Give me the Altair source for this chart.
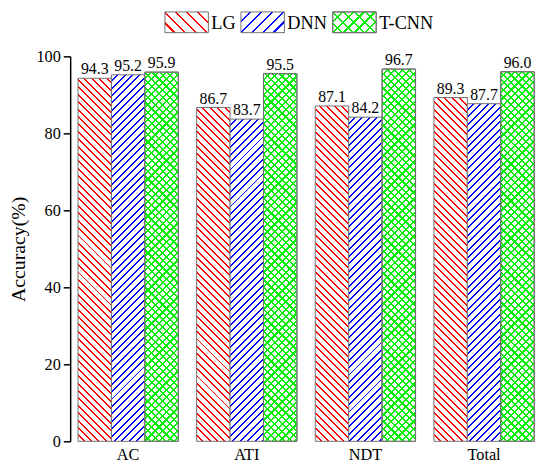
import math
import altair as alt
import pandas as pd

# ---------------- data ----------------
categories = ["AC", "ATI", "NDT", "Total"]
models = ["LG", "DNN", "T-CNN"]
lg_acc = [94.3, 86.7, 87.1, 89.3]
dnn_acc = [95.2, 83.7, 84.2, 87.7]
tcnn_acc = [95.9, 95.5, 96.7, 96.0]
y_ticks = [0, 20, 40, 60, 80, 100]

rows = []
for series, vals in zip(models, [lg_acc, dnn_acc, tcnn_acc]):
    for cat, v in zip(categories, vals):
        rows.append({"Category": cat, "Model": series, "Accuracy": v})
df = pd.DataFrame(rows)
leg_df = pd.DataFrame({"Model": models})

# ---------------- style ----------------
FONT = "Liberation Serif"
W, H = 478, 390
PI, PO = 0.155, 0.066
STEP = W / (len(categories) - PI + 2 * PO)
BAR_W = STEP * (1 - PI) / len(models)
PX_PER_UNIT = H / 100.0
OUTLINE = "#707070"
RED, BLUE, GREEN = "#ff0000", "#0000ff", "#00ee00"
WHITE, CLEAR = "#ffffff", "rgba(255,255,255,0)"


def stop_list(fg, bg, D, period, thick):
    parts = []
    n = int(math.ceil(D / period))
    for i in range(n):
        p0 = min(1.0, i * period / D)
        p1 = min(1.0, (i * period + period - thick) / D)
        p2 = min(1.0, (i + 1) * period / D)
        parts.append("{offset:%.5f,color:'%s'}" % (p0, bg))
        parts.append("{offset:%.5f,color:'%s'}" % (p1, bg))
        parts.append("{offset:%.5f,color:'%s'}" % (p1, fg))
        parts.append("{offset:%.5f,color:'%s'}" % (p2, fg))
    return ",".join(parts)


def hatch(w, h, fg, bg, direction, D, period, thick):
    """Linear gradient giving 45-degree stripes inside a w x h box (bbox units)."""
    k = "(%s/((%s)*(%s)+(%s)*(%s)))" % (D, w, w, h, h)
    if direction == "back":  # '\' stripes
        y1, y2 = "1", "1-(%s)*%s" % (h, k)
    else:  # '/' stripes
        y1, y2 = "0", "(%s)*%s" % (h, k)
    return "{gradient:'linear',x1:0,y1:%s,x2:(%s)*%s,y2:%s,stops:[%s]}" % (
        y1, w, k, y2, stop_list(fg, bg, D, period, thick))


# bar gradients (height from the datum)
BW = "%.4f" % BAR_W
BH = "datum.Accuracy*%.4f" % PX_PER_UNIT
D_BAR, P_BAR = 420, 7.5
g_lg = hatch(BW, BH, RED, WHITE, "back", D_BAR, P_BAR, 2.0)
g_dnn = hatch(BW, BH, BLUE, WHITE, "fwd", D_BAR, P_BAR, 2.0)
g_t1 = hatch(BW, BH, GREEN, WHITE, "back", D_BAR, P_BAR, 2.2)
g_t2 = hatch(BW, BH, GREEN, CLEAR, "fwd", D_BAR, P_BAR, 2.2)
bar_fill = "datum.Model==='LG'?%s:(datum.Model==='DNN'?%s:%s)" % (g_lg, g_dnn, g_t1)

# legend swatch gradients
LW, LH = 44, 21
D_LEG, P_LEG = 70, 11
leg_grad = {
    "LG": [hatch(str(LW), str(LH), RED, WHITE, "back", D_LEG, P_LEG, 2.2)],
    "DNN": [hatch(str(LW), str(LH), BLUE, WHITE, "fwd", D_LEG, P_LEG, 2.2)],
    "T-CNN": [hatch(str(LW), str(LH), GREEN, WHITE, "back", D_LEG, P_LEG, 2.4),
              hatch(str(LW), str(LH), GREEN, CLEAR, "fwd", D_LEG, P_LEG, 2.4)],
}

# ---------------- main chart ----------------
x_enc = alt.X(
    "Category:N", sort=categories,
    scale=alt.Scale(domain=categories, paddingInner=PI, paddingOuter=PO),
    axis=alt.Axis(title=None, labelAngle=0, ticks=False, tickSize=0, domain=False,
                  labelFont=FONT, labelFontSize=16.5, labelColor="black", labelPadding=5),
)
xo_enc = alt.XOffset("Model:N", sort=models,
                     scale=alt.Scale(domain=models, paddingInner=0, paddingOuter=0))
y_enc = alt.Y(
    "Accuracy:Q",
    scale=alt.Scale(domain=[0, 100], nice=False, zero=True),
    axis=alt.Axis(values=y_ticks, title="Accuracy(%)", grid=False,
                  domainColor="black", domainWidth=1.5, tickColor="black", tickWidth=1.5,
                  tickSize=7, labelFont=FONT, labelFontSize=16.5, labelColor="black",
                  labelPadding=3, titleFont=FONT, titleFontSize=20, titleFontWeight="normal",
                  titleColor="black", titlePadding=8),
)

base = alt.Chart(df).encode(x=x_enc, xOffset=xo_enc, y=y_enc)
bars = base.mark_bar(fill=alt.ExprRef(expr=bar_fill), stroke=OUTLINE, strokeWidth=1)
over = base.transform_filter("datum.Model==='T-CNN'").mark_bar(
    fill=alt.ExprRef(expr=g_t2), stroke=OUTLINE, strokeWidth=1)
labels = base.mark_text(baseline="alphabetic", dy=-4, font=FONT, fontSize=16,
                        color="black").encode(text=alt.Text("Accuracy:Q", format=".1f"))
main = alt.layer(bars, over, labels).properties(width=W, height=H)


# ---------------- legend (one cell per series, laid out by hconcat) ----------------
def legend_item(m):
    src = alt.Chart(leg_df).transform_filter("datum.Model==='%s'" % m)
    layers = []
    for g in leg_grad[m]:
        layers.append(src.mark_rect(fill=alt.ExprRef(expr=g), stroke=OUTLINE, strokeWidth=1)
                      .encode(x=alt.value(0), x2=alt.value(LW), y=alt.value(0), y2=alt.value(LH)))
    layers.append(src.mark_text(align="left", baseline="middle", font=FONT, fontSize=18.5,
                                color="black")
                  .encode(x=alt.value(LW + 3), y=alt.value(LH / 2 + 1), text="Model:N"))
    return alt.layer(*layers).properties(width=LW, height=LH)


SPACER = 91
spacer = (alt.Chart(leg_df).transform_filter("datum.Model==='LG'")
          .mark_rect(opacity=0)
          .encode(x=alt.value(0), x2=alt.value(SPACER), y=alt.value(0), y2=alt.value(LH))
          .properties(width=SPACER, height=LH))
legend = alt.hconcat(spacer, *[legend_item(m) for m in models], spacing=4)

chart = alt.vconcat(
    legend, main, spacing=15,
    padding={"left": 0, "top": 0, "right": 0, "bottom": -3},
).configure_view(stroke=None)

chart.save("out.html", embed_options={"renderer": "svg", "actions": False})
